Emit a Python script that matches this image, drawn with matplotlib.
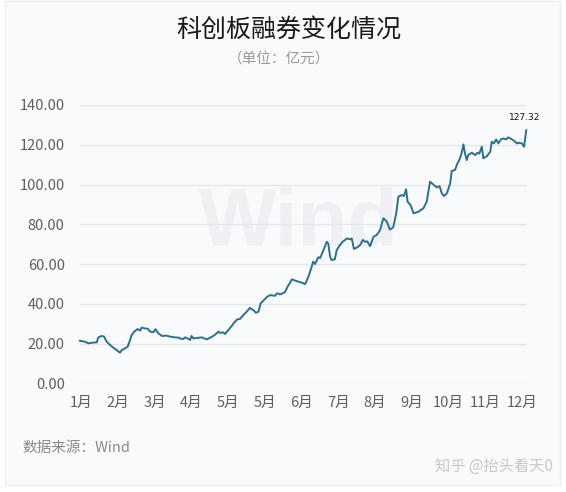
import matplotlib.pyplot as plt
from matplotlib.patches import Rectangle

plt.rcParams['font.family'] = ['Noto Sans CJK SC', 'DejaVu Sans']

# 数据（按图读取，横轴单位 = 月份刻度间隔）
pos = [-0.03, 0.11, 0.20, 0.29, 0.43, 0.47, 0.56, 0.63, 0.70, 0.79, 0.88, 0.97,
       1.06, 1.11, 1.20, 1.27, 1.32, 1.38, 1.45, 1.54, 1.61, 1.65, 1.74, 1.82,
       1.88, 1.97, 2.03, 2.10, 2.21, 2.33, 2.42, 2.56, 2.65, 2.72, 2.79, 2.83,
       2.88, 2.97, 3.01, 3.06, 3.19, 3.29, 3.42, 3.51, 3.60, 3.69, 3.74, 3.78,
       3.87, 3.92, 4.01, 4.10, 4.19, 4.26, 4.33, 4.42, 4.51, 4.60, 4.65, 4.69,
       4.76, 4.83, 4.89, 4.98, 5.07, 5.16, 5.28, 5.34, 5.42, 5.55, 5.62, 5.69,
       5.74, 5.87, 6.01, 6.10, 6.19, 6.28, 6.32, 6.37, 6.46, 6.51, 6.60, 6.69,
       6.73, 6.78, 6.82, 6.91, 6.96, 7.05, 7.12, 7.19, 7.23, 7.32, 7.37, 7.43,
       7.52, 7.60, 7.67, 7.73, 7.79, 7.87, 7.96, 8.05, 8.14, 8.23, 8.32, 8.41,
       8.50, 8.58, 8.64, 8.73, 8.79, 8.85, 8.89, 8.97, 9.05, 9.18, 9.32, 9.41,
       9.50, 9.59, 9.68, 9.76, 9.82, 9.88, 9.96, 10.05, 10.09, 10.18, 10.25,
       10.30, 10.36, 10.41, 10.45, 10.50, 10.54, 10.64, 10.73, 10.79, 10.84,
       10.91, 10.95, 11.05, 11.14, 11.18, 11.24, 11.30, 11.36, 11.43, 11.50,
       11.57, 11.63, 11.73, 11.82, 11.86, 11.93, 12.00, 12.06, 12.12]
rongquan = [21.4, 20.9, 20.1, 20.4, 20.6, 23.1, 23.8, 23.5, 20.9, 19.3, 17.9, 16.7,
            15.4, 16.7, 17.6, 18.4, 20.9, 24.3, 26.0, 27.3, 26.5, 28.0, 27.6, 27.4,
            26.0, 25.7, 27.2, 25.2, 23.8, 24.0, 23.5, 23.1, 23.0, 22.4, 22.3, 23.1,
            22.8, 21.8, 23.8, 22.6, 22.9, 23.1, 22.1, 22.9, 23.8, 25.1, 26.0, 25.4,
            25.6, 24.8, 26.8, 28.8, 31.0, 32.2, 32.4, 34.4, 36.0, 38.0, 37.2, 36.9,
            35.5, 36.0, 40.2, 41.9, 43.6, 44.4, 44.0, 45.3, 44.7, 45.8, 48.5, 50.6,
            52.3, 51.4, 50.6, 49.9, 53.6, 58.7, 61.2, 60.0, 63.4, 63.0, 67.0, 71.2,
            70.4, 63.7, 62.0, 62.4, 67.0, 69.6, 71.2, 72.1, 72.9, 72.4, 72.9, 67.6,
            68.4, 69.6, 72.1, 71.2, 71.4, 69.0, 73.7, 74.6, 77.1, 83.0, 81.5, 77.3,
            78.5, 85.5, 93.9, 94.7, 94.2, 97.6, 91.3, 89.7, 85.5, 86.3, 88.0, 91.3,
            101.4, 100.0, 98.6, 99.2, 95.6, 94.2, 95.6, 100.6, 106.8, 107.3, 110.7,
            112.4, 115.7, 120.2, 115.7, 112.3, 114.8, 116.0, 114.8, 116.0, 115.5,
            119.0, 113.2, 114.3, 116.5, 121.5, 120.7, 122.7, 120.7, 122.7, 123.2,
            122.7, 123.7, 122.7, 121.5, 120.7, 121.0, 120.7, 119.0, 127.32]
month_labels = ['1月', '2月', '3月', '4月', '5月', '5月', '6月', '7月', '8月',
                '9月', '10月', '11月', '12月']
y_ticks = [0, 20, 40, 60, 80, 100, 120, 140]

fig = plt.figure(figsize=(5.66, 4.92), dpi=100)
fig.patch.set_facecolor('white')

# 卡片背景
fig.patches.append(Rectangle((5 / 566, 1 - 485 / 492), 555 / 566, 484 / 492,
                             transform=fig.transFigure, facecolor='#f9fafc',
                             edgecolor='#eceef1', lw=1, zorder=-10))

ax = fig.add_axes([80 / 566, (492 - 383.3) / 492, 447 / 566, 278.3 / 492])
ax.set_facecolor('none')
ax.set_zorder(5)

# 水印
ax.text(0.49, 0.57, 'Wind', transform=ax.transAxes, fontsize=59,
        fontweight='bold', family='Liberation Sans', color='#eef0f3',
        ha='center', va='center', zorder=0)

ax.plot(pos, rongquan, color='#2e6f8e', lw=1.4, zorder=3, clip_on=False)
ax.annotate(f'{rongquan[-1]:.2f}', (pos[-1], rongquan[-1]), xytext=(-1, 6),
            textcoords='offset points', ha='center', va='bottom',
            fontsize=6.5, color='#111111', family='DejaVu Sans')

ax.set_xlim(-0.027, 12.14)
ax.set_ylim(0, 140)
ax.set_yticks(y_ticks)
ax.set_yticklabels([f'{v:.2f}' for v in y_ticks])
ax.set_xticks(range(len(month_labels)))
ax.set_xticklabels(month_labels)
ax.grid(axis='y', color='#e3e6ea', lw=1)
ax.set_axisbelow(True)
for s in ax.spines.values():
    s.set_visible(False)
ax.tick_params(axis='y', length=0, pad=11, labelsize=10.5, labelcolor='#5f5f5f')
ax.tick_params(axis='x', length=0, pad=9, labelsize=10.5, labelcolor='#5f5f5f')

fig.text(289 / 566, 1 - 30 / 492, '科创板融券变化情况', ha='center', va='center',
         fontsize=18, color='#1a1a1a')
fig.text(279 / 566, 1 - 60 / 492, '（单位：亿元）', ha='center', va='center',
         fontsize=10.5, color='#9a9a9a')
fig.text(22 / 566, 1 - 448 / 492, '数据来源：Wind', ha='left', va='center',
         fontsize=10.5, color='#8a8a8a')
fig.text(553 / 566, 1 - 466 / 492, '知乎 @抬头看天0', ha='right', va='center',
         fontsize=11, color='#c8c8c8')

fig.savefig('out.png', dpi=100, facecolor=fig.get_facecolor())
